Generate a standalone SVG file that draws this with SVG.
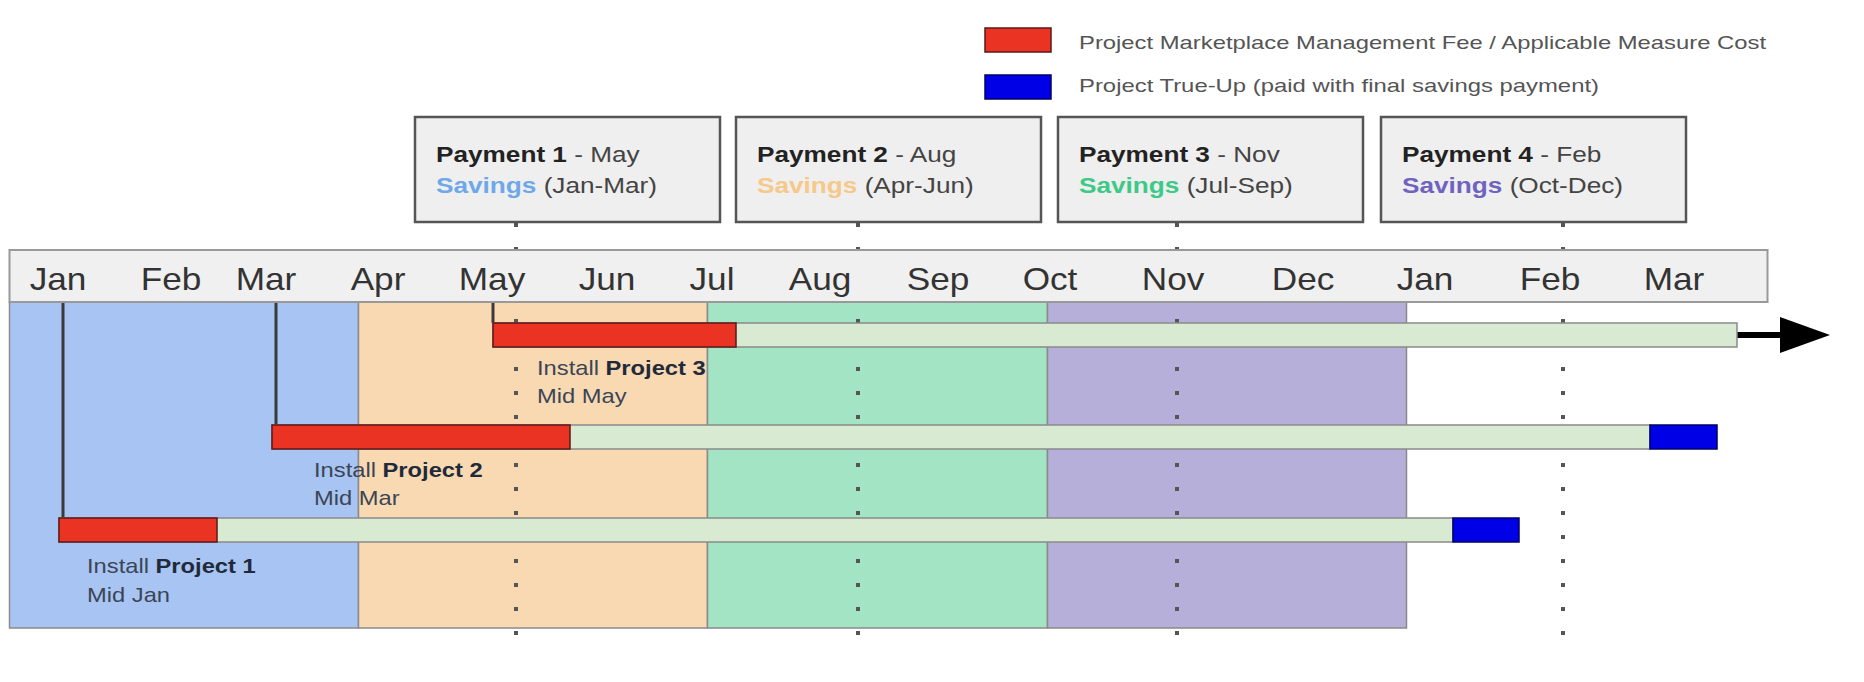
<svg xmlns="http://www.w3.org/2000/svg" width="1864" height="682" viewBox="0 0 1864 682">
<style>
text{font-family:"Liberation Sans",Arial,sans-serif}
.leg{font-size:19px;fill:#555}
.mon{font-size:32px;fill:#333;text-anchor:middle}
.pay{font-size:22px;fill:#444}
.b{font-weight:bold}
.pb{fill:#222;font-weight:bold}
.ins{font-size:21px;fill:#3b4556}
.insb{fill:#1f2a3a;font-weight:bold}
.box{fill:#efefef;stroke:#555;stroke-width:2.5}
.reg{stroke:#8a8a8a;stroke-width:1.5}
.bar{fill:#d9ead3;stroke:#8a8a8a;stroke-width:1.5}
.red{fill:#ea3323;stroke:#5a1a1a;stroke-width:1.5}
.blue{fill:#0000e6;stroke:#000066;stroke-width:1.5}
.dot{stroke:#555;stroke-width:4;stroke-dasharray:4 20}
.vl{stroke:#3a3a3a;stroke-width:3}
</style>
<rect width="1864" height="682" fill="#fff"/>
<g id="regions">
<rect class="reg" x="9.5" y="302" width="349" height="326" fill="#a8c4f2"/>
<rect class="reg" x="358.5" y="302" width="349" height="326" fill="#f9d9b2"/>
<rect class="reg" x="707.5" y="302" width="340" height="326" fill="#a3e4c5"/>
<rect class="reg" x="1047.5" y="302" width="359" height="326" fill="#b5afd9"/>
</g>
<g id="connectors">
<line class="dot" x1="516" y1="223" x2="516" y2="640"/>
<line class="dot" x1="858" y1="223" x2="858" y2="640"/>
<line class="dot" x1="1177" y1="223" x2="1177" y2="640"/>
<line class="dot" x1="1563" y1="223" x2="1563" y2="640"/>
<line class="vl" x1="63" y1="302" x2="63" y2="517"/>
<line class="vl" x1="276" y1="302" x2="276" y2="425"/>
<line class="vl" x1="493" y1="302" x2="493" y2="323"/>
<line x1="1737" y1="335" x2="1785" y2="335" stroke="#000" stroke-width="6"/>
<polygon points="1780,317 1830,335 1780,353" fill="#000"/>
</g>
<g id="legend">
<rect class="red" x="985" y="28" width="66" height="24"/>
<rect class="blue" x="985" y="75" width="66" height="24"/>
<text class="leg" x="1079" y="49" textLength="687" lengthAdjust="spacingAndGlyphs">Project Marketplace Management Fee / Applicable Measure Cost</text>
<text class="leg" x="1079" y="92" textLength="520" lengthAdjust="spacingAndGlyphs">Project True-Up (paid with final savings payment)</text>
</g>
<g id="payment1">
<rect class="box" x="415" y="117" width="305" height="105"/>
<text class="pay" transform="translate(436,162) scale(1.19,1)"><tspan class="pb">Payment 1</tspan> - May</text>
<text class="pay" transform="translate(436,193) scale(1.19,1)"><tspan class="b" fill="#6fa8e8">Savings</tspan> (Jan-Mar)</text>
</g>
<g id="payment2">
<rect class="box" x="736" y="117" width="305" height="105"/>
<text class="pay" transform="translate(757,162) scale(1.19,1)"><tspan class="pb">Payment 2</tspan> - Aug</text>
<text class="pay" transform="translate(757,193) scale(1.19,1)"><tspan class="b" fill="#f6c88a">Savings</tspan> (Apr-Jun)</text>
</g>
<g id="payment3">
<rect class="box" x="1058" y="117" width="305" height="105"/>
<text class="pay" transform="translate(1079,162) scale(1.19,1)"><tspan class="pb">Payment 3</tspan> - Nov</text>
<text class="pay" transform="translate(1079,193) scale(1.19,1)"><tspan class="b" fill="#3dc987">Savings</tspan> (Jul-Sep)</text>
</g>
<g id="payment4">
<rect class="box" x="1381" y="117" width="305" height="105"/>
<text class="pay" transform="translate(1402,162) scale(1.19,1)"><tspan class="pb">Payment 4</tspan> - Feb</text>
<text class="pay" transform="translate(1402,193) scale(1.19,1)"><tspan class="b" fill="#6f63c0">Savings</tspan> (Oct-Dec)</text>
</g>
<g id="timeline">
<rect x="9.5" y="250" width="1758" height="52" fill="#f0f0f0" stroke="#999" stroke-width="2"/>
<text class="mon" transform="translate(58,290) scale(1.1,1)">Jan</text>
<text class="mon" transform="translate(171,290) scale(1.1,1)">Feb</text>
<text class="mon" transform="translate(266,290) scale(1.1,1)">Mar</text>
<text class="mon" transform="translate(378,290) scale(1.1,1)">Apr</text>
<text class="mon" transform="translate(492,290) scale(1.1,1)">May</text>
<text class="mon" transform="translate(607,290) scale(1.1,1)">Jun</text>
<text class="mon" transform="translate(712,290) scale(1.1,1)">Jul</text>
<text class="mon" transform="translate(820,290) scale(1.1,1)">Aug</text>
<text class="mon" transform="translate(938,290) scale(1.1,1)">Sep</text>
<text class="mon" transform="translate(1050,290) scale(1.1,1)">Oct</text>
<text class="mon" transform="translate(1173,290) scale(1.1,1)">Nov</text>
<text class="mon" transform="translate(1303,290) scale(1.1,1)">Dec</text>
<text class="mon" transform="translate(1425,290) scale(1.1,1)">Jan</text>
<text class="mon" transform="translate(1550,290) scale(1.1,1)">Feb</text>
<text class="mon" transform="translate(1674,290) scale(1.1,1)">Mar</text>
</g>
<g id="project3">
<rect class="bar" x="493" y="323" width="1244" height="24"/>
<rect class="red" x="493" y="323" width="243" height="24"/>
<text class="ins" transform="translate(537,375) scale(1.13,1)">Install <tspan class="insb">Project 3</tspan></text>
<text class="ins" transform="translate(537,403) scale(1.13,1)">Mid May</text>
</g>
<g id="project2">
<rect class="bar" x="272" y="425" width="1378" height="24"/>
<rect class="red" x="272" y="425" width="298" height="24"/>
<rect class="blue" x="1650" y="425" width="67" height="24"/>
<text class="ins" transform="translate(314,477) scale(1.13,1)">Install <tspan class="insb">Project 2</tspan></text>
<text class="ins" transform="translate(314,505) scale(1.13,1)">Mid Mar</text>
</g>
<g id="project1">
<rect class="bar" x="59" y="518" width="1394" height="24"/>
<rect class="red" x="59" y="518" width="158" height="24"/>
<rect class="blue" x="1453" y="518" width="66" height="24"/>
<text class="ins" transform="translate(87,573) scale(1.13,1)">Install <tspan class="insb">Project 1</tspan></text>
<text class="ins" transform="translate(87,602) scale(1.13,1)">Mid Jan</text>
</g>
</svg>
